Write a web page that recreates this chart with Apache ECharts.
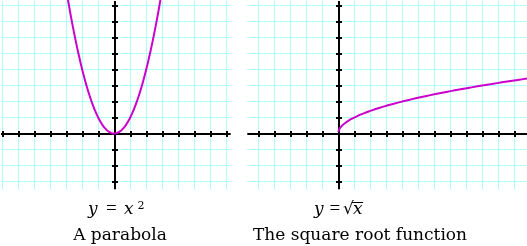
<!DOCTYPE html>
<html><head><meta charset="utf-8">
<script src="https://cdn.jsdelivr.net/npm/echarts@6/dist/echarts.min.js"></script>
<style>html,body{margin:0;padding:0;background:#fff}#c{width:527px;height:246px}</style>
</head><body><div id="c"></div>
<script>
// ---- data ----
const parabolaX = [-2.9,-2.8,-2.7,-2.6,-2.5,-2.4,-2.3,-2.2,-2.1,-2.0,-1.9,-1.8,-1.7,-1.6,-1.5,-1.4,-1.3,-1.2,-1.1,-1.0,-0.9,-0.8,-0.7,-0.6,-0.5,-0.4,-0.3,-0.2,-0.1,0,0.1,0.2,0.3,0.4,0.5,0.6,0.7,0.8,0.9,1.0,1.1,1.2,1.3,1.4,1.5,1.6,1.7,1.8,1.9,2.0,2.1,2.2,2.3,2.4,2.5,2.6,2.7,2.8,2.9];
const parabolaY = [8.41,7.84,7.29,6.76,6.25,5.76,5.29,4.84,4.41,4.0,3.61,3.24,2.89,2.56,2.25,1.96,1.69,1.44,1.21,1.0,0.81,0.64,0.49,0.36,0.25,0.16,0.09,0.04,0.01,0,0.01,0.04,0.09,0.16,0.25,0.36,0.49,0.64,0.81,1.0,1.21,1.44,1.69,1.96,2.25,2.56,2.89,3.24,3.61,4.0,4.41,4.84,5.29,5.76,6.25,6.76,7.29,7.84,8.41];
const rootX = [0.01,0.04,0.09,0.16,0.25,0.36,0.49,0.64,0.81,1.0,1.21,1.44,1.69,1.96,2.25,2.56,2.89,3.24,3.61,4.0,4.41,4.84,5.29,5.76,6.25,6.76,7.29,7.84,8.41,9.0,9.61,10.24,10.89,11.56,11.8];
const rootY = [0.1,0.2,0.3,0.4,0.5,0.6,0.7,0.8,0.9,1.0,1.1,1.2,1.3,1.4,1.5,1.6,1.7,1.8,1.9,2.0,2.1,2.2,2.3,2.4,2.5,2.6,2.7,2.8,2.9,3.0,3.1,3.2,3.3,3.4,3.435];
const leftGridX = [-7,-6,-5,-4,-3,-2,-1,0,1,2,3,4,5,6,7];
const rightGridX = [-5,-4,-3,-2,-1,0,1,2,3,4,5,6,7,8,9,10,11];
const gridYVals = [-3,-2,-1,0,1,2,3,4,5,6,7,8];
const leftTicksX = [-7,-6,-5,-4,-3,-2,-1,1,2,3,4,5,6,7];
const rightTicksX = [-5,-4,-3,-2,-1,1,2,3,4,5,6,7,8,9,10,11];
const ticksY = [-3,-2,-1,1,2,3,4,5,6,7,8];
const leftRange = [-7.075, 7.28];
const rightRange = [-5.68, 11.8];
const yRange = [-3.475, 8.28];
const captions = ['A parabola', 'The square root function'];

const GRID = '#b0ffff', CURVE = '#cc00cc';

function frame(gx, tx, xr) {
  return function (params, api) {
    const ch = [];
    const o = api.coord([0, 0]);
    const tl = api.coord([xr[0], yRange[1]]);
    const br = api.coord([xr[1], yRange[0]]);
    gx.forEach(v => {
      const x = Math.floor(api.coord([v, 0])[0]) + 0.5;
      ch.push({type: 'line', shape: {x1: x, y1: tl[1], x2: x, y2: br[1]}, style: {stroke: GRID, lineWidth: 1}});
    });
    gridYVals.forEach(v => {
      const y = Math.floor(api.coord([0, v])[1]) + 0.5;
      ch.push({type: 'line', shape: {x1: tl[0], y1: y, x2: br[0], y2: y}, style: {stroke: GRID, lineWidth: 1}});
    });
    const ax = Math.floor(o[0]) + 1, ay = Math.floor(o[1]) + 1;
    ch.push({type: 'line', shape: {x1: tl[0], y1: ay, x2: br[0], y2: ay}, style: {stroke: '#000', lineWidth: 2}});
    ch.push({type: 'line', shape: {x1: ax, y1: tl[1], x2: ax, y2: br[1]}, style: {stroke: '#000', lineWidth: 2}});
    tx.forEach(v => {
      const x = Math.floor(api.coord([v, 0])[0]) + 1;
      ch.push({type: 'line', shape: {x1: x, y1: ay - 3, x2: x, y2: ay + 3}, style: {stroke: '#000', lineWidth: 2}});
    });
    ticksY.forEach(v => {
      const y = Math.floor(api.coord([0, v])[1]) + 1;
      ch.push({type: 'line', shape: {x1: ax - 3, y1: y, x2: ax + 3, y2: y}, style: {stroke: '#000', lineWidth: 2}});
    });
    return {type: 'group', children: ch};
  };
}

const chart = echarts.init(document.getElementById('c'), null, {renderer: 'canvas'});
const serif = '"DejaVu Serif", "Liberation Serif", serif';
const fontN = '17px ' + serif;
const fontI = 'italic 17px ' + serif;
const fontEq = '19px "Liberation Serif", serif';
function txt(x, y, text, font, align) {
  return {type: 'text', x: x, y: y, silent: true, style: {text: text, font: font, fill: '#000', textAlign: align || 'left', textVerticalAlign: 'middle'}};
}
chart.setOption({
  animation: false,
  grid: [
    {left: 1, top: 1, width: 229.68, height: 188.2},
    {left: 247.3, top: 1, width: 279.68, height: 188.2}
  ],
  xAxis: [
    {gridIndex: 0, type: 'value', min: leftRange[0], max: leftRange[1], show: false},
    {gridIndex: 1, type: 'value', min: rightRange[0], max: rightRange[1], show: false}
  ],
  yAxis: [
    {gridIndex: 0, type: 'value', min: yRange[0], max: yRange[1], show: false},
    {gridIndex: 1, type: 'value', min: yRange[0], max: yRange[1], show: false}
  ],
  series: [
    {type: 'custom', xAxisIndex: 0, yAxisIndex: 0, data: [[0, 0]], renderItem: frame(leftGridX, leftTicksX, leftRange), silent: true, z: 1, clip: false},
    {type: 'custom', xAxisIndex: 1, yAxisIndex: 1, data: [[0, 0]], renderItem: frame(rightGridX, rightTicksX, rightRange), silent: true, z: 1, clip: false},
    {type: 'line', xAxisIndex: 0, yAxisIndex: 0, data: parabolaX.map((x, i) => [x, parabolaY[i]]), showSymbol: false, smooth: true, clip: true, z: 3,
     lineStyle: {color: CURVE, width: 2}},
    {type: 'line', xAxisIndex: 1, yAxisIndex: 1, data: rootX.map((x, i) => [x, rootY[i]]), showSymbol: false, smooth: true, clip: true, z: 3,
     lineStyle: {color: CURVE, width: 2}}
  ],
  graphic: [
    txt(88, 209.5, 'y', fontI),
    txt(106, 209.5, '=', fontEq),
    txt(124, 209.5, 'x', fontI),
    txt(137.5, 206, '2', '11px ' + serif),
    txt(120, 235.5, captions[0], fontN, 'center'),
    txt(314, 209.5, 'y', fontI),
    txt(329.5, 209.5, '=', fontEq),
    txt(343, 209.5, '\u221A', fontN),
    txt(353, 209.5, 'x', fontI),
    {type: 'line', silent: true, shape: {x1: 352, y1: 202.5, x2: 363, y2: 202.5}, style: {stroke: '#000', lineWidth: 1}},
    txt(360, 235.5, captions[1], fontN, 'center')
  ]
});
</script></body></html>
